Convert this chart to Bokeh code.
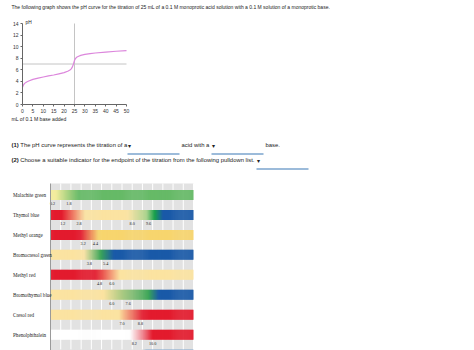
import numpy as np
from bokeh.plotting import figure
from bokeh.models import Range1d, FixedTicker, Label, BoxAnnotation
from bokeh.layouts import column
from bokeh.core.properties import value
from bokeh.embed import file_html
from bokeh.resources import INLINE

# ---------------- data ----------------
base_ml = [0, 0.5, 1, 2, 3, 5, 7.5, 10, 12.5, 15, 17.5, 20, 22, 23, 23.5, 24,
           24.5, 25, 25.5, 26, 27, 28, 30, 32.5, 35, 40, 45, 50]
ph_curve = [3.0, 3.4, 3.65, 3.9, 4.05, 4.35, 4.55, 4.75, 4.95, 5.1, 5.3, 5.5,
            5.8, 6.0, 6.2, 6.5, 7.0, 7.6, 7.95, 8.15, 8.35, 8.5, 8.65, 8.8,
            8.9, 9.05, 9.2, 9.3]
x_ticks = [0, 5, 10, 15, 20, 25, 30, 35, 40, 45, 50]
y_ticks = [0, 2, 4, 6, 8, 10, 12, 14]
equiv_ml = 25
neutral_ph = 7

indicators = ["Malachite green", "Thymol blue", "Methyl orange", "Bromocresol green",
              "Methyl red", "Bromothymol blue", "Cresol red", "Phenolphthalein"]
range_low = [[0.2], [1.2, 8.0], [3.2], [3.8], [4.8], [6.0], [7.0], [8.2]]
range_high = [[1.8], [2.8, 9.6], [4.4], [5.4], [6.0], [7.6], [8.8], [10.0]]
range_low_txt = [["0.2"], ["1.2", "8.0"], ["3.2"], ["3.8"], ["4.8"], ["6.0"], ["7.0"], ["8.2"]]
range_high_txt = [["1.8"], ["2.8", "9.6"], ["4.4"], ["5.4"], ["6.0"], ["7.6"], ["8.8"], ["10.0"]]
ph_scale = [0, 14]
ph_grid = list(range(0, 15))

title_text = ("The following graph shows the pH curve for the titration of 25 mL of a 0.1 M "
              "monoprotic acid solution with a 0.1 M solution of a monoprotic base.")
x_label = "mL of 0.1 M base added"
y_label = "pH"
q1_parts = ["The pH curve represents the titration of a", "acid with a", "base."]
q2_text = "Choose a suitable indicator for the endpoint of the titration from the following pulldown list."

# ---------------- styles ----------------
R, Y, YO, B, W = "#e31b2e", "#fbe3a1", "#f7d56e", "#1a5aa8", "#ffffff"
GREY = "#e2e2e2"
color_stops = [
    [(0, "#f3ec9e"), (0.5, "#f3ec9e"), (2.8, "#66ba67"), (14, "#66ba67")],
    [(0, R), (1.1, R), (3.4, Y), (7.6, Y), (9.4, "#a9d38b"), (10.2, "#17a04a"), (11.0, B), (14, B)],
    [(0, R), (3.0, R), (4.7, YO), (14, YO)],
    [(0, Y), (3.3, Y), (4.9, "#3aa556"), (6.2, B), (14, B)],
    [(0, R), (4.4, R), (6.8, Y), (14, Y)],
    [(0, Y), (5.2, Y), (9.6, "#3aa556"), (10.6, B), (14, B)],
    [(0, Y), (6.7, Y), (9.0, R), (14, R)],
    [(0, W), (7.8, W), (10.0, R), (14, R)],
    [(0, GREY), (9.0, GREY), (9.4, "#8eb0d2"), (14, "#8eb0d2")],
]
SANS = "Liberation Sans"
SERIF = "Liberation Serif"
TXT = "#222222"


def hex2rgb(h):
    h = h.lstrip("#")
    return [int(h[i:i + 2], 16) for i in (0, 2, 4)]


def interp_colors(stops, xs):
    sx = [s[0] for s in stops]
    rgb = np.array([hex2rgb(s[1]) for s in stops], dtype=float)
    out = []
    for x in xs:
        c = [int(round(np.interp(x, sx, rgb[:, k]))) for k in range(3)]
        out.append("#%02x%02x%02x" % tuple(c))
    return out


def blank_fig(w, h, **kw):
    p = figure(width=w, height=h, output_backend="svg", toolbar_location=None,
               min_border_left=0, min_border_right=0, min_border_top=0,
               min_border_bottom=0, **kw)
    p.outline_line_color = None
    p.frame_align = False
    return p


def lab(p, x, y, text, size, bold=False, font=SANS, color=TXT, yunits="screen"):
    p.add_layout(Label(x=x, y=y, x_units="screen", y_units=yunits, text=text,
                       text_font_size=f"{size}px", text_baseline="middle", text_align="left",
                       text_font=font, text_font_style="bold" if bold else "normal",
                       text_color=color))


WID = 474
QS = 5.9   # question font size

# ---------------- A: title strip (canvas y 0..13) ----------------
HA = 13
pA = blank_fig(WID, HA, x_range=Range1d(0, 1), y_range=Range1d(0, 1),
               x_axis_location=None, y_axis_location=None)
pA.grid.visible = False
lab(pA, 11, HA - 6, title_text, 5.0)

# ---------------- B: titration chart (canvas y 13..116) ----------------
TOPB, HB = 13, 103
FL, FB = 22, 104            # frame left / frame bottom in page pixels
px_per_ml = 104 / 50
px_per_ph = 81 / 14
pB = figure(width=WID, height=HB, output_backend="svg", toolbar_location=None,
            x_range=Range1d(0, (WID - FL) / px_per_ml),
            y_range=Range1d(0, (FB - TOPB) / px_per_ph),
            min_border_left=FL, min_border_right=0, min_border_top=0,
            min_border_bottom=TOPB + HB - FB)
pB.frame_align = False
pB.outline_line_color = None
pB.grid.visible = False
pB.xaxis.ticker = FixedTicker(ticks=x_ticks)
pB.yaxis.ticker = FixedTicker(ticks=y_ticks)
pB.xaxis.bounds = (x_ticks[0], x_ticks[-1])
pB.yaxis.bounds = (y_ticks[0], y_ticks[-1])
for ax in (pB.xaxis, pB.yaxis):
    ax.axis_line_color = "#666666"
    ax.major_tick_line_color = "#666666"
    ax.major_tick_out = 2
    ax.major_tick_in = 0
    ax.minor_tick_line_color = None
    ax.major_label_text_font_size = "5px"
    ax.major_label_text_font = SANS
    ax.major_label_text_color = "#333333"
    ax.major_label_standoff = 2

pB.segment(x0=[x_ticks[0]], x1=[x_ticks[-1]], y0=[neutral_ph], y1=[neutral_ph],
           line_color="#c4c4c4", line_width=1)
pB.segment(x0=[equiv_ml], x1=[equiv_ml], y0=[y_ticks[0]], y1=[y_ticks[-1]],
           line_color="#c4c4c4", line_width=1)
pB.line(base_ml, ph_curve, line_color="#dc86dc", line_width=1.2)
lab(pB, 25 - FL, FB - 22, y_label, 4.8)

# ---------------- C: questions (canvas y 116..180) ----------------
TOPC, HC = 116, 64
pC = blank_fig(WID, HC, x_range=Range1d(0, 1), y_range=Range1d(0, 1),
               x_axis_location=None, y_axis_location=None)
pC.grid.visible = False


def cy(yy):
    return TOPC + HC - yy


lab(pC, 11, cy(118.5), x_label, 5.1)
lab(pC, 11, cy(144.5), "(1)", QS, bold=True)
lab(pC, 19.8, cy(144.5), q1_parts[0], QS)
lab(pC, 127, cy(145), "\u25be", QS)
lab(pC, 181, cy(144.5), q1_parts[1], QS)
lab(pC, 211, cy(145), "\u25be", QS)
lab(pC, 265, cy(144.5), q1_parts[2], QS)
lab(pC, 11, cy(159.5), "(2)", QS, bold=True)
lab(pC, 19.8, cy(159.5), q2_text, QS)
lab(pC, 256.5, cy(160), "\u25be", QS)
for (x0, x1, yy) in [(127, 179, 153.5), (211, 263, 153.5), (256, 308, 168.5)]:
    pC.add_layout(BoxAnnotation(left=x0, right=x1, bottom=cy(yy) - 0.5, top=cy(yy) + 0.5,
                                left_units="screen", right_units="screen",
                                top_units="screen", bottom_units="screen",
                                fill_color="#3b78b5", fill_alpha=1, line_color=None))

# ---------------- D: indicator chart (canvas y 180..350) ----------------
TOPD, HD = 180, 170
L2, R2 = 50, 193
px_per_unit = (R2 - L2) / 14
row0, pitch = 194.5, 19.95
r_top = (TOPD - row0) / pitch
r_bot = (TOPD + HD - row0) / pitch
grey_top = (183 - row0) / pitch
pD = blank_fig(WID, HD, x_range=Range1d(-L2 / px_per_unit, (WID - L2) / px_per_unit),
               y_range=Range1d(r_bot, r_top), x_axis_location=None, y_axis_location=None)
pD.grid.visible = False

pD.quad(left=[ph_scale[0]], right=[ph_scale[1]], top=[grey_top], bottom=[r_bot + 1],
        fill_color=GREY, line_color=None)
pD.segment(x0=ph_grid, x1=ph_grid, y0=[grey_top] * len(ph_grid), y1=[r_bot + 1] * len(ph_grid),
           line_color="white", line_width=1)

step = 0.1
xs = np.arange(ph_scale[0], ph_scale[1], step)
for i, stops in enumerate(color_stops):
    cols = interp_colors(stops, xs + step / 2)
    rgt = np.minimum(xs + step + 0.04, ph_scale[1])
    pD.quad(left=xs, right=rgt, bottom=i - 0.25, top=i + 0.25,
            fill_color=cols, line_color=None)

vx, vy, vt = [], [], []
for i in range(len(indicators)):
    for lo, hi, lt, ht in zip(range_low[i], range_high[i], range_low_txt[i], range_high_txt[i]):
        vx += [lo, hi]
        vy += [i + 0.45, i + 0.45]
        vt += [lt, ht]
pD.text(x=vx, y=vy, text=vt, text_font=value(SERIF), text_font_size="4.2px",
        text_align="center", text_baseline="middle", text_color=TXT)

pD.segment(x0=[ph_scale[0]], x1=[ph_scale[0]], y0=[grey_top], y1=[r_bot + 1],
           line_color="#9a9a9a", line_width=1)

for i, name in enumerate(indicators):
    lab(pD, 12.5, i, name, 5.1, font=SERIF, yunits="data")

layout = column(pA, pB, pC, pD, spacing=0)
open("out.html", "w").write(file_html(layout, INLINE))
